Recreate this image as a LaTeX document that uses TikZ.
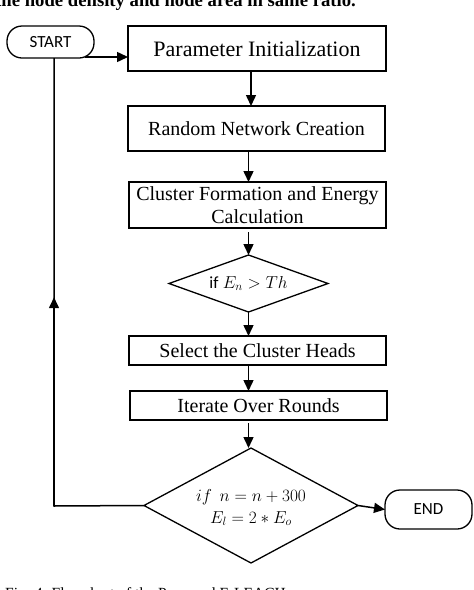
\documentclass[tikz,border=0pt]{standalone}
\usepackage{fontspec}
\setmainfont{Liberation Serif}
\newfontfamily\calfont{Carlito}
\usetikzlibrary{shapes.geometric,arrows.meta,calc}
\begin{document}
\begin{tikzpicture}[x=1pt,y=-1pt,
  box/.style={draw,line width=1.3pt,rectangle,inner sep=0pt,outer sep=0pt,font=\fontsize{20}{23}\selectfont,align=center},
  term/.style={draw,line width=1.3pt,rectangle,rounded corners=15pt,inner sep=0pt,outer sep=0pt,font=\calfont\fontsize{17}{20}\selectfont},
  dec/.style={draw,line width=1.3pt,diamond,inner sep=0pt,outer sep=0pt},
  dectext/.style={font=\fontsize{17}{22}\selectfont,align=center,inner sep=0pt},
  arr/.style={line width=1.5pt,-{Triangle[length=11pt,width=10pt]}},
  flow/.style={line width=1.5pt},
  captext/.style={inner sep=0pt,anchor=base west}]
\useasboundingbox (0,0) rectangle (474,590);
\clip (0,0) rectangle (474,590);

% cut-off surrounding text
\node[captext,font=\bfseries\fontsize{18.7}{20}\selectfont] (toptext) at (-5,6.5) {the node density and node area in same ratio.};
\node[captext,font=\fontsize{15.5}{18}\selectfont] (caption) at (5,598.5) {Fig. 4. Flowchart of the Proposed E-LEACH};

% nodes
\node[term,minimum width=87pt,minimum height=32pt] (start) at (50.5,42) {START};
\node[box,minimum width=258pt,minimum height=45pt,font=\fontsize{22}{24}\selectfont] (pi) at (257,48.5) {Parameter Initialization};
\node[box,minimum width=257pt,minimum height=45pt] (rnc) at (256.5,128.5) {Random Network Creation};
\node[box,minimum width=257pt,minimum height=46pt] (cfe) at (257.5,205) {Cluster Formation and Energy\\Calculation};
\node[dec,minimum width=159pt,minimum height=57pt,
      label={[dectext]center:{\calfont if} $E_n > Th$}] (d1) at (248.5,283.5) {};
\node[box,minimum width=257pt,minimum height=29pt] (sch) at (257.5,350.5) {Select the Cluster Heads};
\node[box,minimum width=257pt,minimum height=29pt] (ior) at (258.5,405.5) {Iterate Over Rounds};
\node[dec,minimum width=214pt,minimum height=115pt,
      label={[dectext,yshift=-2pt]center:$if\;\, n = n + 300$\\$E_l = 2 \ast E_o$}] (d2) at (251,505.5) {};
\node[term,minimum width=87pt,minimum height=39pt] (end) at (428.5,509.5) {END};

% connectors
\coordinate (sa) at ([shift={(-9,-1)}]start.south east);
\draw[arr] (sa) -- (sa -| pi.west);
\draw[arr] (pi.south -| d2) -- (rnc.north -| d2);
\draw[arr] (rnc.south -| d1) -- (cfe.north -| d1);
\draw[arr] ([yshift=-4pt]cfe.south -| d1) -- (d1.north);
\draw[arr] (d1.south) -- (sch.north -| d1);
\draw[arr] (sch.south -| d1) -- (ior.north -| d1);
\draw[arr] ([yshift=-3pt]ior.south -| d1) -- (d2.north -| d1);
\draw[arr] (d2.east) -- (end.west);

% feedback loop
\coordinate (lp) at (54,506);
\draw[flow] (d2.west) -- (lp) -- (lp |- start.south);
\draw[arr] (lp) -- ($(lp)!0.466!(lp |- start.south)$);
\end{tikzpicture}
\end{document}
